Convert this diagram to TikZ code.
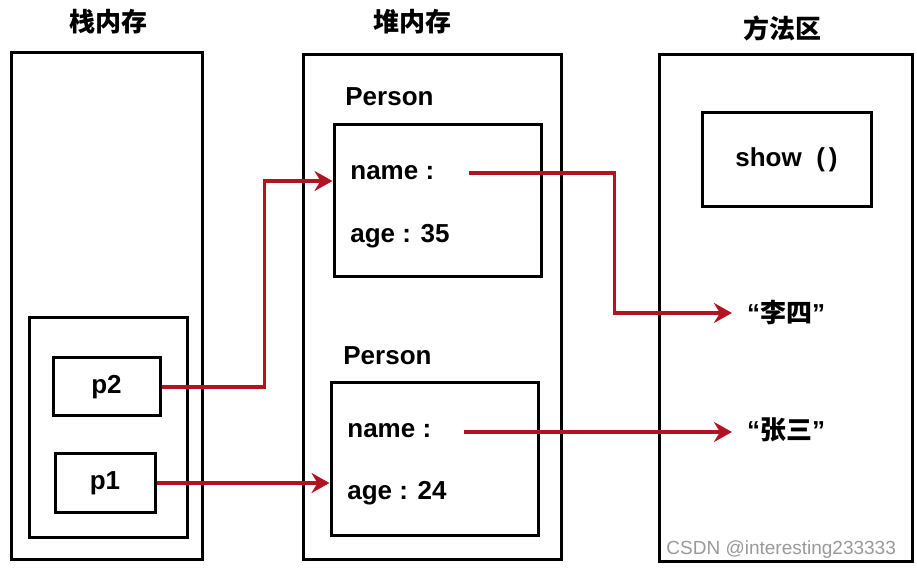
\documentclass[tikz,border=0pt]{standalone}
\usepackage{fontspec}
\setmainfont{Liberation Sans}
\newfontfamily\cjk{Noto Sans CJK SC}
\usetikzlibrary{arrows.meta,calc}
\definecolor{linkred}{RGB}{178,18,34}

\begin{document}
\begin{tikzpicture}[x=0.5pt,y=-0.5pt,
    frame/.style={draw,line width=1.5pt,inner sep=0pt},
    txt/.style={font=\bfseries\fontsize{13}{15}\selectfont},
    title/.style={font=\cjk\bfseries\fontsize{13}{15}\selectfont},
    field/.style={txt,anchor=west,inner sep=0pt},
    ref/.style={linkred,line width=1.8pt,shorten >=4pt,-{Stealth[length=9pt,width=10pt,inset=3pt]}}]
    \useasboundingbox (0,0) rectangle (917,571);
    % stack:
    \node[title] (stacktitle) at (108,22) {栈内存};
    \node[frame,minimum width=95.5pt,minimum height=253.5pt] (stack) at (106.5,306.5) {};
    \node[frame,minimum width=79pt,minimum height=110pt] (stackframe) at (108,428) {};
    \node[frame,txt,minimum width=53.5pt,minimum height=29pt] (p2) at (106.5,387) {p2};
    \node[frame,txt,minimum width=50pt,minimum height=29.5pt] (p1) at (105,483) {p1};
    % heap:
    \node[title] (heaptitle) at (412,22) {堆内存};
    \node[frame,minimum width=129pt,minimum height=252.5pt] (heap) at (432,307.5) {};
    \node[field] (person1) at (345,97) {Person};
    \node[frame,minimum width=103.5pt,minimum height=76pt] (obj1) at (437.5,201) {};
    \node[field] (name1) at (350,173) {name :};
    \node[field] (age1) at (350,236) {age : 35};
    \node[field] (person2) at (343,356) {Person};
    \node[frame,minimum width=103.5pt,minimum height=76.5pt] (obj2) at (434.5,459.5) {};
    \node[field] (name2) at (347,431) {name :};
    \node[field] (age2) at (347,493) {age : 24};
    % method area:
    \node[title] (methodtitle) at (782,28) {方法区};
    \node[frame,minimum width=126.5pt,minimum height=253.5pt] (method) at (785.5,308.5) {};
    \node[frame,txt,minimum width=84.5pt,minimum height=47pt] (show) at (786.5,160) {show~~(\kern2pt)};
    \node[txt] (lisi) at (786,313) {“{\cjk 李四}”};
    \node[txt] (zhangsan) at (786,430) {“{\cjk 张三}”};
    % references:
    \coordinate (from1) at ($(name1.east)+(34,0)$);
    \coordinate (from2) at ($(name2.east)+(32,1)$);
    \draw[ref,shorten >=0pt] (p2.east) -- ++(103,0) |- ($(obj1.west)+(0,-20)$);
    \draw[ref,shorten >=0pt] (p1.east) -- (p1.east -| obj2.west);
    \draw[ref] (from1) -- ++(146,0) |- (lisi.west);
    \draw[ref] (from2) -- (from2 -| zhangsan.west);
    % watermark:
    \node[font=\fontsize{9.5}{10}\selectfont,text=black!40,anchor=east] (mark) at (903,550) {CSDN @interesting233333};
\end{tikzpicture}
\end{document}
